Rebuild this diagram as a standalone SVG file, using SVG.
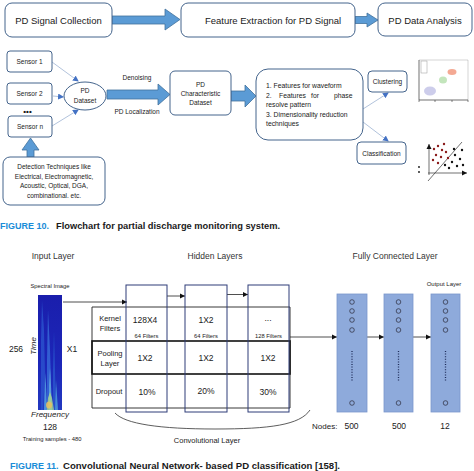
<svg xmlns="http://www.w3.org/2000/svg" width="474" height="471" viewBox="0 0 474 471">
<defs>
<style>
text{font-family:"Liberation Sans",Arial,sans-serif;fill:#1a1a1a}
.box{fill:#fff;stroke:#44648c;stroke-width:1}
.big{fill:#5b9bd5;stroke:#41719c;stroke-width:0.8}
.thin{fill:none;stroke:#9db2d2;stroke-width:0.8}
.t95{font-size:9.5px}
.t65{font-size:6.5px}
.t7{font-size:6.8px}
.t85{font-size:8.5px}
.grid{fill:none;stroke:#222;stroke-width:0.9}
.col{fill:none;stroke:#2e3d78;stroke-width:1}
.fc{fill:#8eaadb;stroke:#7b97cc;stroke-width:0.8}
.nd{fill:none;stroke:#2a2a3a;stroke-width:0.7}
.dots{stroke:#1f2d5a;stroke-width:1.3;stroke-dasharray:1,1.6}
.cap{font-size:9px;font-weight:bold}
.capb{fill:#1a8cd8}
.ax{stroke:#333;stroke-width:0.7;fill:none}
.ar{stroke:#222;stroke-width:0.8}
</style>
<marker id="ah" markerWidth="6" markerHeight="6" refX="5" refY="3" orient="auto" markerUnits="userSpaceOnUse">
<path d="M0,0 L6,3 L0,6 z" fill="#4472c4"/>
</marker>
<marker id="ak" markerWidth="6" markerHeight="6" refX="5" refY="3" orient="auto" markerUnits="userSpaceOnUse">
<path d="M0,0.5 L5,3 L0,5.5 z" fill="#111"/>
</marker>
<linearGradient id="spec" x1="0" y1="0" x2="0" y2="1">
<stop offset="0" stop-color="#1a1eac"/>
<stop offset="0.6" stop-color="#1c26b8"/>
<stop offset="1" stop-color="#2238c0"/>
</linearGradient>
</defs>

<!-- Figure 10 -->
<g id="connectors10">
<polygon class="big" points="112,16 165,16 165,9 180,19.5 165,30 165,24 112,24"/>
<polygon class="big" points="355,16.5 367,16.5 367,13 378,20 367,27 367,23.5 355,23.5"/>
<polygon class="big" points="107,90 158,90 158,84 170,94.5 158,105 158,99 107,99"/>
<polygon class="big" points="231,91 245,91 245,85 256,96 245,107 245,101 231,101"/>
<polygon class="big" points="27,157 27,150 22,150 30.5,138 39,150 34,150 34,157"/>
<line class="thin" x1="52" y1="62" x2="78" y2="81" marker-end="url(#ah)"/>
<line class="thin" x1="53" y1="96" x2="63" y2="97" marker-end="url(#ah)"/>
<line class="thin" x1="52" y1="126" x2="78" y2="110" marker-end="url(#ah)"/>
<line class="thin" x1="363" y1="109" x2="388" y2="93" marker-end="url(#ah)"/>
<line class="thin" x1="363" y1="122" x2="388" y2="141" marker-end="url(#ah)"/>
</g>

<g id="pd-signal-collection">
<rect class="box" x="5" y="3" width="107" height="34" rx="7"/>
<text class="t95" x="58.5" y="24" text-anchor="middle">PD Signal Collection</text>
</g>
<g id="feature-extraction">
<rect class="box" x="181" y="3" width="174" height="34" rx="7"/>
<text class="t95" x="273" y="24" text-anchor="middle">Feature Extraction for PD Signal</text>
</g>
<g id="pd-data-analysis">
<rect class="box" x="378" y="3" width="94" height="33" rx="7"/>
<text class="t95" x="425" y="24" text-anchor="middle">PD Data Analysis</text>
</g>

<g id="sensor1">
<rect class="box" x="7" y="51" width="45" height="21" rx="3"/>
<text class="t65" x="29.5" y="64" text-anchor="middle">Sensor 1</text>
</g>
<g id="sensor2">
<rect class="box" x="7" y="83" width="45" height="21" rx="3"/>
<text class="t65" x="29.5" y="96" text-anchor="middle">Sensor 2</text>
</g>
<g id="dots-sensors">
<text x="27.5" y="114" text-anchor="middle" style="font-size:8px;font-weight:bold">•••</text>
</g>
<g id="sensorn">
<rect class="box" x="8" y="116" width="44" height="21" rx="3"/>
<text class="t65" x="30" y="129" text-anchor="middle">Sensor n</text>
</g>
<g id="pd-dataset">
<ellipse class="box" cx="85" cy="96" rx="21" ry="14"/>
<text class="t65" x="85" y="93" text-anchor="middle">PD</text>
<text class="t65" x="85" y="103" text-anchor="middle">Dataset</text>
</g>
<g id="edge-labels">
<text class="t65" x="137" y="80" text-anchor="middle">Denoising</text>
<text class="t65" x="137" y="114" text-anchor="middle">PD Localization</text>
</g>
<g id="pd-characteristic">
<rect class="box" x="170" y="71" width="61" height="44" rx="5"/>
<text class="t65" x="200.5" y="87" text-anchor="middle">PD</text>
<text class="t65" x="200.5" y="96" text-anchor="middle">Characteristic</text>
<text class="t65" x="200.5" y="105" text-anchor="middle">Dataset</text>
</g>
<g id="features">
<rect class="box" x="256" y="69" width="107" height="71" rx="12"/>
<text class="t7" x="266" y="88">1. Features for waveform</text>
<text class="t7" y="97.5"><tspan x="266">2.</tspan><tspan x="279">Features</tspan><tspan x="311">for</tspan><tspan x="334">phase</tspan></text>
<text class="t7" x="266" y="107">resolve pattern</text>
<text class="t7" x="266" y="116.5">3. Dimensionality reduction</text>
<text class="t7" x="266" y="126">techniques</text>
</g>
<g id="clustering">
<rect class="box" x="368" y="71" width="39" height="21" rx="4"/>
<text class="t65" x="387.5" y="84" text-anchor="middle">Clustering</text>
</g>
<g id="classification">
<rect class="box" x="357" y="142" width="49" height="22" rx="4"/>
<text class="t65" x="381.5" y="155.5" text-anchor="middle">Classification</text>
</g>
<g id="detection">
<rect class="box" x="3" y="157" width="102" height="48" rx="7"/>
<text class="t65" x="54" y="169" text-anchor="middle">Detection Techniques like</text>
<text class="t65" x="54" y="178.5" text-anchor="middle">Electrical, Electromagnetic,</text>
<text class="t65" x="54" y="188" text-anchor="middle">Acoustic, Optical, DGA,</text>
<text class="t65" x="54" y="197.5" text-anchor="middle">combinational. etc.</text>
</g>

<g id="cluster-plot">
<line class="ax" x1="419" y1="60" x2="419" y2="100"/>
<line class="ax" x1="419" y1="100" x2="468" y2="100"/>
<line class="ax" x1="419" y1="60" x2="468" y2="60" stroke-opacity="0.3"/>
<line class="ax" x1="468" y1="60" x2="468" y2="100" stroke-opacity="0.3"/>
<rect x="421" y="61" width="6" height="12" fill="none" stroke="#999" stroke-width="0.5"/>
<g stroke="#333" stroke-width="0.6">
<line x1="419" y1="100" x2="419" y2="102"/><line x1="435" y1="100" x2="435" y2="102"/><line x1="452" y1="100" x2="452" y2="102"/><line x1="468" y1="100" x2="468" y2="102"/>
</g>
<ellipse cx="430" cy="91" rx="6" ry="4.5" fill="#c4c4e8" opacity="0.85"/>
<ellipse cx="443" cy="80" rx="4" ry="3.5" fill="#b8e0b0" opacity="0.85"/>
<ellipse cx="452" cy="72" rx="4.5" ry="3" fill="#f29a80" opacity="0.85"/>
</g>
<g id="class-plot">
<line class="ax" x1="429" y1="175" x2="429" y2="144" marker-end="url(#ak)"/>
<line class="ax" x1="428" y1="173" x2="467" y2="173" marker-end="url(#ak)"/>
<line class="ax" x1="428" y1="181" x2="462" y2="142"/>
<g fill="#8a1a1a">
<circle cx="434" cy="149" r="1.2"/><circle cx="438" cy="146" r="1.2"/><circle cx="442" cy="150" r="1.2"/><circle cx="436" cy="155" r="1.2"/><circle cx="441" cy="157" r="1.2"/><circle cx="446" cy="152" r="1.2"/><circle cx="433" cy="160" r="1.2"/><circle cx="444" cy="144" r="1.2"/><circle cx="438" cy="163" r="1.2"/><circle cx="448" cy="158" r="1.2"/>
</g>
<g fill="#111">
<circle cx="455" cy="155" r="1.2"/><circle cx="460" cy="159" r="1.2"/><circle cx="452" cy="162" r="1.2"/><circle cx="457" cy="166" r="1.2"/><circle cx="463" cy="165" r="1.2"/><circle cx="449" cy="168" r="1.2"/><circle cx="462" cy="150" r="1.2"/><circle cx="454" cy="149" r="1.2"/><circle cx="445" cy="165" r="1.2"/>
<circle cx="419" cy="167" r="0.9"/><circle cx="419" cy="172" r="0.9"/>
</g>
</g>

<g id="caption10">
<text class="cap" x="0" y="229"><tspan class="capb">FIGURE 10.</tspan></text>
<text class="cap" x="56" y="229" textLength="224" lengthAdjust="spacingAndGlyphs">Flowchart for partial discharge monitoring system.</text>
</g>

<!-- Figure 11 -->
<g id="layer-titles">
<text class="t85" x="53" y="259" text-anchor="middle" style="fill:#333">Input Layer</text>
<text class="t85" x="215" y="259" text-anchor="middle" style="fill:#333">Hidden Layers</text>
<text class="t85" x="395" y="259" text-anchor="middle" style="fill:#333">Fully Connected Layer</text>
</g>

<g id="input-layer">
<text x="50" y="288" text-anchor="middle" style="font-size:5.8px">Spectral Image</text>
<rect x="38" y="295" width="24" height="115" fill="url(#spec)"/>
<g opacity="0.75">
<path d="M42,300 L44,330 L45,372 L43,410 L41,410 L41,340 Z" fill="#2c56d0"/>
<path d="M48,310 L50,350 L51,380 L49,410 L47,410 L47,360 Z" fill="#3a70dc"/>
<path d="M54,330 L55,370 L56,410 L53,410 L53,370 Z" fill="#2a5ad0"/>
<path d="M45,372 L46,385 L47,410 L44,410 Z" fill="#5ab0e8"/>
<path d="M50,368 L51,385 L52,410 L49,410 L49,385 Z" fill="#6cc0e8"/>
<path d="M56,380 L57,395 L58,410 L55,410 Z" fill="#50a8e0"/>
</g>
<path d="M47,410 L48,398 L50,392 L52,398 L54,410 Z" fill="#a8d890" opacity="0.8"/>
<ellipse cx="49" cy="405" rx="3" ry="3.5" fill="#e8c060" opacity="0.85"/>
<text x="0" y="0" transform="translate(35.5,346) rotate(-90)" text-anchor="middle" style="font-size:8px;font-style:italic">Time</text>
<text x="16" y="352" text-anchor="middle" style="font-size:8.5px">256</text>
<text x="72" y="352" text-anchor="middle" style="font-size:8.5px">X1</text>
<text x="50" y="417" text-anchor="middle" style="font-size:8px;font-style:italic">Frequency</text>
<text x="50" y="430" text-anchor="middle" style="font-size:8.5px">128</text>
<text x="52" y="441" text-anchor="middle" style="font-size:5.8px">Training samples - 480</text>
</g>

<g id="connectors11">
<line class="ar" x1="63" y1="302" x2="127" y2="302" marker-end="url(#ak)"/>
<line class="ar" x1="167" y1="296" x2="185" y2="296" marker-end="url(#ak)"/>
<line class="ar" x1="227" y1="294.5" x2="248" y2="294.5" marker-end="url(#ak)"/>
<line class="ar" x1="290" y1="337" x2="337" y2="337" marker-end="url(#ak)"/>
<line class="ar" x1="367" y1="337" x2="384" y2="337" marker-end="url(#ak)"/>
<line class="ar" x1="413" y1="337" x2="431" y2="337" marker-end="url(#ak)"/>
<path d="M115,413 C125,424 160,429 215,429 C270,429 300,425 310,410" fill="none" stroke="#333" stroke-width="0.8"/>
</g>

<g id="conv-table">
<line class="grid" x1="92" y1="307" x2="290" y2="307"/>
<line class="grid" x1="92" y1="408" x2="290" y2="408"/>
<line class="grid" x1="92" y1="307" x2="92" y2="408"/>
<line class="grid" x1="290" y1="307" x2="290" y2="408"/>
<rect x="92" y="341" width="198" height="33" fill="none" stroke="#111" stroke-width="1.6"/>
<rect class="col" x="126" y="285" width="41" height="127"/>
<rect class="col" x="185" y="285" width="42" height="127"/>
<rect class="col" x="248" y="285" width="41" height="127"/>
<text x="110" y="321" text-anchor="middle" style="font-size:7.5px">Kernel</text>
<text x="110" y="331" text-anchor="middle" style="font-size:7.5px">Filters</text>
<text x="110" y="356" text-anchor="middle" style="font-size:7.5px">Pooling</text>
<text x="110" y="366" text-anchor="middle" style="font-size:7.5px">Layer</text>
<text x="109" y="394" text-anchor="middle" style="font-size:7.5px">Dropout</text>
<text x="145" y="323" text-anchor="middle" style="font-size:8.5px">128X4</text>
<text x="146.5" y="338" text-anchor="middle" style="font-size:5.8px">64 Filters</text>
<text x="206" y="323" text-anchor="middle" style="font-size:8.5px">1X2</text>
<text x="206" y="338" text-anchor="middle" style="font-size:5.8px">64 Filters</text>
<text x="268" y="321" text-anchor="middle" style="font-size:8.5px">...</text>
<text x="268.5" y="338" text-anchor="middle" style="font-size:5.8px">128 Filters</text>
<text x="145" y="361" text-anchor="middle" style="font-size:8.5px">1X2</text>
<text x="206" y="361" text-anchor="middle" style="font-size:8.5px">1X2</text>
<text x="268" y="361" text-anchor="middle" style="font-size:8.5px">1X2</text>
<text x="147" y="395" text-anchor="middle" style="font-size:8.5px">10%</text>
<text x="206" y="394" text-anchor="middle" style="font-size:8.5px">20%</text>
<text x="268" y="395" text-anchor="middle" style="font-size:8.5px">30%</text>
<text x="207" y="443" text-anchor="middle" style="font-size:7.5px">Convolutional Layer</text>
</g>

<g id="fc1">
<rect class="fc" x="337" y="294" width="30" height="118"/>
<circle class="nd" cx="352" cy="302" r="2.3"/><circle class="nd" cx="352" cy="311" r="2.3"/><circle class="nd" cx="352" cy="320" r="2.3"/><circle class="nd" cx="352" cy="330" r="2.3"/>
<line class="dots" x1="352" y1="351" x2="352" y2="382"/>
<circle class="nd" cx="352" cy="403" r="2.3"/>
</g>
<g id="fc2">
<rect class="fc" x="384" y="294" width="29" height="118"/>
<circle class="nd" cx="398.5" cy="302" r="2.3"/><circle class="nd" cx="398.5" cy="311" r="2.3"/><circle class="nd" cx="398.5" cy="320" r="2.3"/><circle class="nd" cx="398.5" cy="330" r="2.3"/>
<line class="dots" x1="398.5" y1="351" x2="398.5" y2="382"/>
<circle class="nd" cx="398.5" cy="403" r="2.3"/>
</g>
<g id="fc3">
<rect class="fc" x="431" y="294" width="29" height="118"/>
<circle class="nd" cx="445.5" cy="302" r="2.3"/><circle class="nd" cx="445.5" cy="311" r="2.3"/><circle class="nd" cx="445.5" cy="320" r="2.3"/><circle class="nd" cx="445.5" cy="330" r="2.3"/>
<line class="dots" x1="445.5" y1="351" x2="445.5" y2="382"/>
<circle class="nd" cx="445.5" cy="403" r="2.3"/>
<text x="444" y="286" text-anchor="middle" style="font-size:6px">Output Layer</text>
</g>
<g id="fc-labels">
<text x="312" y="429" style="font-size:8px">Nodes:</text>
<text x="351.5" y="429" text-anchor="middle" style="font-size:8.5px">500</text>
<text x="399" y="429" text-anchor="middle" style="font-size:8.5px">500</text>
<text x="445" y="429" text-anchor="middle" style="font-size:8.5px">12</text>
</g>

<g id="caption11">
<text class="cap" x="10" y="469"><tspan class="capb">FIGURE 11.</tspan></text>
<text class="cap" x="63" y="469" textLength="277" lengthAdjust="spacingAndGlyphs">Convolutional Neural Network- based PD classification [158].</text>
</g>
</svg>
